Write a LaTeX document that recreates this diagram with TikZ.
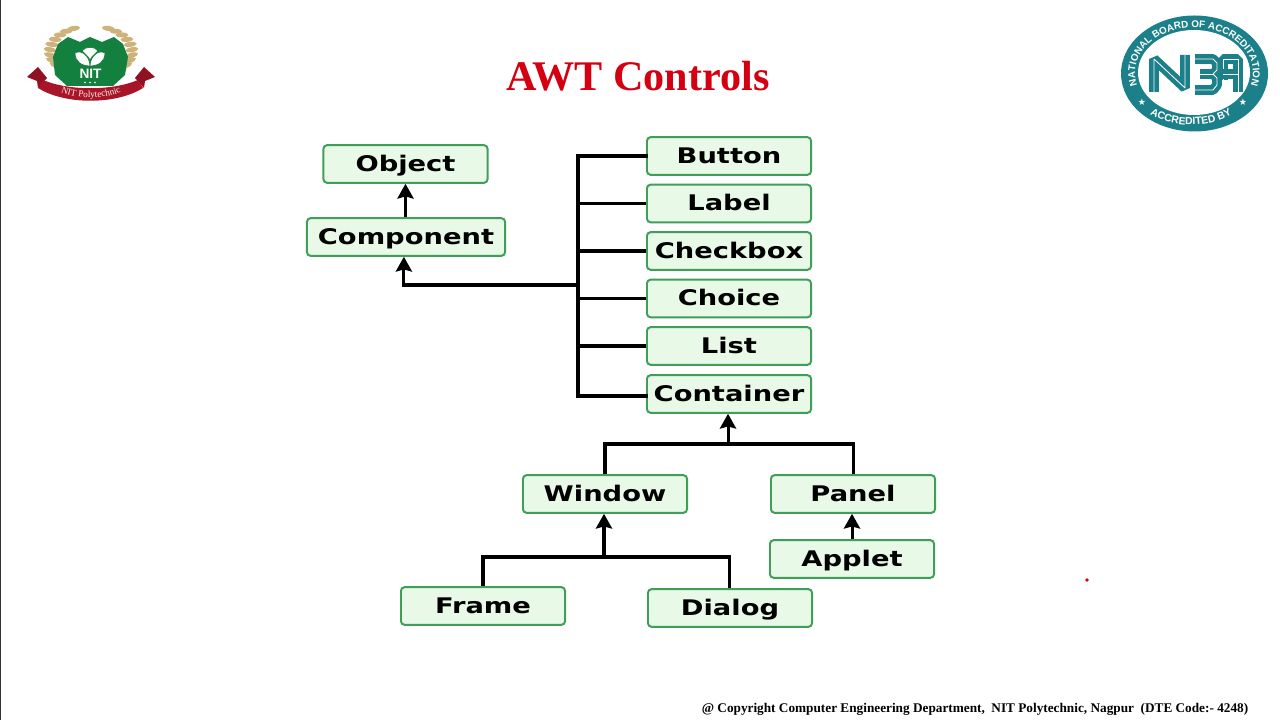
\documentclass[tikz,border=0pt]{standalone}
\usepackage{fontspec}
\setmainfont{Liberation Serif}
\newfontfamily\boxfont[FakeStretch=1.27]{DejaVu Sans Bold}
\newfontfamily\logofont{Liberation Sans}
\newfontfamily\starfont{DejaVu Sans}
\usepackage{tikz}
\usetikzlibrary{positioning}
\usetikzlibrary{arrows.meta}
\usetikzlibrary{decorations.text}
\definecolor{boxedge}{HTML}{3F9E58}
\definecolor{boxfill}{HTML}{E8F9E8}
\definecolor{titlered}{HTML}{D40012}
\definecolor{nitgreen}{HTML}{14803F}
\definecolor{nitred}{HTML}{A81428}
\definecolor{nittan}{HTML}{CDB27A}
\definecolor{nbateal}{HTML}{1B8089}
\tikzstyle{line} = [draw, -{Stealth[length=10.5pt,width=11.5pt,inset=1.5pt]}, line width=2.15pt]
\tikzstyle{plain} = [draw, line width=2.15pt]
\tikzstyle{box} = [draw=boxedge, fill=boxfill, line width=1.4pt, rounded corners=2.5pt,
minimum width=4.1cm, minimum height=0.94cm, inner sep=0pt, text height=14pt, text depth=4pt,
font=\boxfont\fontsize{15.3}{16}\selectfont]
\tikzstyle{nbastroke} = [draw=nbateal, line width=3.2pt, double=white, double distance=0.6pt, line join=bevel]
\tikzstyle{leaf} = [fill=white, draw=nitgreen, line width=0.5pt]

\begin{document}
\begin{tikzpicture}[x=0.025cm,y=-0.025cm]
        \useasboundingbox (0,0) rectangle (1280,720);
        \fill [white] (0,0) rectangle (1280,720);
        \fill [black!80] (0,0) rectangle (1.2,720);
        %% Title
        \node [text=titlered, font=\bfseries\fontsize{30}{32}\selectfont] at (638,76) (Title) {AWT Controls};
        \node [font=\bfseries\fontsize{9.43}{11}\selectfont] at (975,709) (Footer)
            {@ Copyright Computer Engineering Department,\ \ NIT Polytechnic, Nagpur\ \ (DTE Code:- 4248)};
        %% Vertices
        \node [box] at (405.5,164) (Object) {Object};
        \node [box, minimum width=4.95cm] at (406,237) (Component) {Component};
        \node [box] at (729,156) (Button) {Button};
        \node [box] at (729,203.5) (Label) {Label};
        \node [box] at (729,251) (Checkbox) {Checkbox};
        \node [box] at (729,298.5) (Choice) {Choice};
        \node [box] at (729,346) (List) {List};
        \node [box] at (729,394) (Container) {Container};
        \node [box] at (605,494) (Window) {Window};
        \node [box] at (853,494) (Panel) {Panel};
        \node [box] at (852,559) (Applet) {Applet};
        \node [box] at (483,606) (Frame) {Frame};
        \node [box] at (730,608) (Dialog) {Dialog};
        %% Joints
        \coordinate (TrunkTop) at (578,156);
        \coordinate (TrunkMid) at (578,285);
        \coordinate (TrunkEnd) at (578,396);
        \coordinate (UpperJoint) at (728,444);
        \coordinate (LowerJoint) at (604,557);
        %% Arcs
        \path [line] (Component.north -| Object.south) to (Object.south);
        \path [line] (TrunkMid) -| ([xshift=-1.5pt]Component.south);
        \path [plain, line cap=rect] (Button.west) to (TrunkTop) to (TrunkEnd) to (Container.west |- TrunkEnd);
        \path [plain] (Label.west) to (Label.west -| TrunkTop);
        \path [plain] (Checkbox.west) to (Checkbox.west -| TrunkTop);
        \path [plain] (Choice.west) to (Choice.west -| TrunkTop);
        \path [plain] (List.west) to (List.west -| TrunkTop);
        \path [line] (UpperJoint) to (UpperJoint |- Container.south);
        \path [plain] (Window.north) |- (UpperJoint) -| (Panel.north);
        \path [line] (LowerJoint) to (LowerJoint |- Window.south);
        \path [plain] (Frame.north) |- (LowerJoint) -| ([xshift=-0.5pt]Dialog.north);
        \path [line] (Applet.north) to (Applet.north |- Panel.south);
        %% Pointer dot
        \fill [titlered] (1087,580) circle (1.8);
        %% NIT badge
        \foreach \a in {115,127,...,223} {
            \fill [nittan, shift={({91+41*cos(\a)},{52-26*sin(\a)})}, rotate={-25+(223-\a)*0.3}] (0,0) ellipse (6.5 and 2.5);
            \fill [nittan, shift={({91-41*cos(\a)},{52-26*sin(\a)})}, rotate={25-(223-\a)*0.3}] (0,0) ellipse (6.5 and 2.5);
        }
        \fill [nitgreen] (68,37) -- (80,42) -- (90,37) -- (102,42) -- (114,37) -- (123,44) -- (128,57)
            -- (125,75) -- (113,86) -- (67,86) -- (55,75) -- (53,57) -- (58,44) -- cycle;
        \path [leaf] (75,53) .. controls (82,49) and (90,57) .. (90,66) .. controls (82,66) and (75,62) .. (75,53) -- cycle;
        \path [leaf] (105,53) .. controls (98,49) and (90,57) .. (90,66) .. controls (98,66) and (105,62) .. (105,53) -- cycle;
        \path [leaf] (82,51) .. controls (85,46) and (95,46) .. (98,51) .. controls (95,54) and (92,56) .. (90,60)
            .. controls (88,56) and (85,54) .. (82,51) -- cycle;
        \node [text=white, font=\logofont\bfseries\fontsize{9.7}{10}\selectfont, inner sep=0pt] at (90.5,74) (BadgeName) {NIT};
        \foreach \x in {85,90,95} \fill [white] (\x,82.5) circle (0.8);
        \fill [nitred!85!black] (27,77) -- (38,67) -- (47,78) -- (38,88) -- (37,81) -- cycle;
        \fill [nitred!85!black] (155,77) -- (144,67) -- (135,78) -- (144,88) -- (145,81) -- cycle;
        \fill [nitred] (38,88) .. controls (65,105) and (116,105) .. (143,88) -- (138,80)
            .. controls (112,91) and (69,91) .. (43,80) -- cycle;
        \path [decorate, decoration={text along path, text align=center,
            text={|\fontsize{6.6}{7}\selectfont\color{white!85!nittan}|NIT Polytechnic}}]
            (57,90) .. controls (75,100) and (107,100) .. (125,90);
        %% NBA seal
        \fill [nbateal] (1194.5,73.5) ellipse (73.5 and 58);
        \fill [white] (1194,72.5) ellipse (56 and 42.5);
        \path [decorate, decoration={text along path, text align=center,
            text={|\logofont\bfseries\fontsize{7}{7}\selectfont\color{white}|NATIONAL BOARD OF ACCREDITATION}}]
            (1138.6,88.6) .. controls (1124.6,58.9) and (1153.1,27.5) .. (1194,27.5)
            .. controls (1234.9,27.5) and (1263.4,58.9) .. (1249.4,88.6);
        \path [decorate, decoration={text along path, text align=center,
            text={|\logofont\bfseries\fontsize{7.4}{8}\selectfont\color{white}|ACCREDITED BY}}]
            (1142.9,109.8) .. controls (1169.4,130) and (1212.6,130) .. (1239.1,109.8);
        \node [text=white, font=\starfont\fontsize{6.5}{7}\selectfont, inner sep=0pt] at (1142,102) (StarLeft) {★};
        \node [text=white, font=\starfont\fontsize{6.5}{7}\selectfont, inner sep=0pt] at (1243,102) (StarRight) {★};
        \path [nbastroke] (1154,92) -- (1154,59) -- (1185,88) -- (1185,55);
        \path [nbastroke] (1195,59) -- (1213,59) -- (1217,63) -- (1217,70) -- (1213,74) -- (1217,78) -- (1217,85) -- (1213,90) -- (1195,90);
        \path [nbastroke] (1200,74) -- (1213,74);
        \path [nbastroke] (1223,80) -- (1223,59) -- (1238,59) -- (1238,92);
        \path [nbastroke] (1223,74) -- (1238,74);
    \end{tikzpicture}
\end{document}
